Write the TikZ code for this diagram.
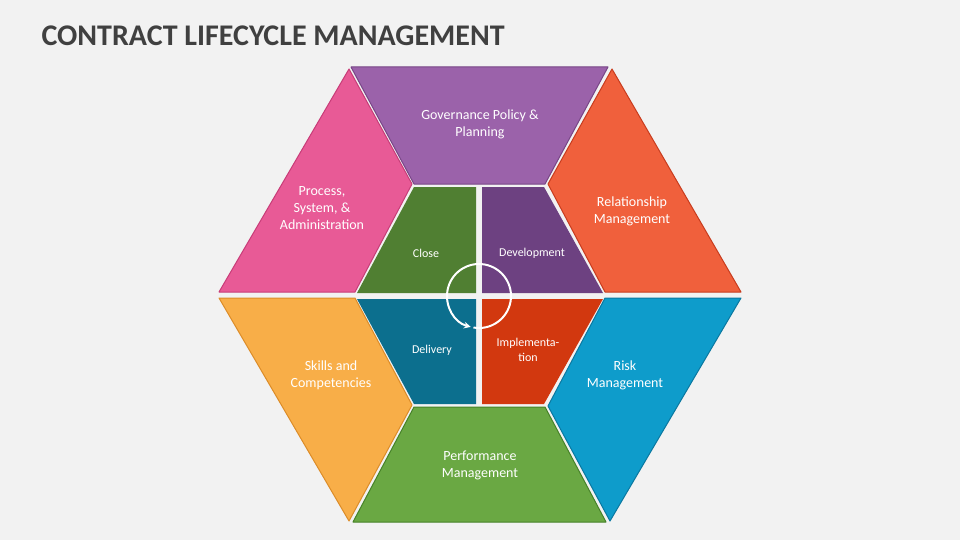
\documentclass[tikz,border=0pt]{standalone}
\usepackage{fontspec}
\setmainfont{Carlito}
\definecolor{bg}{HTML}{F2F2F2}
\definecolor{cPur}{RGB}{155,98,170}\definecolor{dPur}{RGB}{120,70,135}
\definecolor{cOr}{RGB}{240,96,60}\definecolor{dOr}{RGB}{200,60,30}
\definecolor{cBl}{RGB}{14,156,203}\definecolor{dBl}{RGB}{10,120,160}
\definecolor{cGr}{RGB}{106,168,67}\definecolor{dGr}{RGB}{70,130,40}
\definecolor{cYe}{RGB}{248,174,72}\definecolor{dYe}{RGB}{220,140,40}
\definecolor{cPk}{RGB}{232,90,150}\definecolor{dPk}{RGB}{200,60,120}
\definecolor{iGr}{RGB}{80,127,50}\definecolor{iPu}{RGB}{109,65,129}
\definecolor{iBl}{RGB}{12,111,142}\definecolor{iRe}{RGB}{210,56,15}
\begin{document}
\begin{tikzpicture}[x=1pt,y=-1pt,
 piece/.style={line width=1pt, line join=round},
 lbl/.style={text=white, align=center, font=\fontsize{14}{17}\selectfont},
 ilbl/.style={text=white, align=center, font=\fontsize{12}{15}\selectfont}]
\useasboundingbox[fill=bg] (0,0) rectangle (960,540);
\node[anchor=west, text=black!75, font=\fontsize{30}{34}\selectfont\bfseries] (title) at (38,36) {CONTRACT LIFECYCLE MANAGEMENT};
% outer pieces
\filldraw[piece, fill=cPur, draw=dPur] (351,67)--(608,67)--(545,184)--(414,184)--cycle;
\filldraw[piece, fill=cOr, draw=dOr] (612,69)--(741,292)--(605,292)--(548,184)--cycle;
\filldraw[piece, fill=cBl, draw=dBl] (741,298)--(610,521)--(548,406)--(605,298)--cycle;
\filldraw[piece, fill=cGr, draw=dGr] (414,407)--(545,407)--(606,522)--(353,522)--cycle;
\filldraw[piece, fill=cYe, draw=dYe] (219,298)--(355,298)--(412,405)--(349,521)--cycle;
\filldraw[piece, fill=cPk, draw=dPk] (219,292)--(349,69)--(412,184)--(355,292)--cycle;
% inner quadrants
\fill[iGr] (414,187)--(476,187)--(476,293)--(357,293)--cycle;
\fill[iPu] (482,187)--(544,187)--(603,293)--(482,293)--cycle;
\fill[iBl] (357,299)--(476,299)--(476,404)--(414,404)--cycle;
\fill[iRe] (482,299)--(603,299)--(544,404)--(482,404)--cycle;
% cycle arrow
\coordinate (c) at (479,296);
\draw[white, line width=2pt, ->, >={stealth}] (c) ++(100:32) arc[start angle=100, end angle=-255, radius=32];
% labels
\node[lbl] (gov) at (480,124) {Governance Policy \&\\Planning};
\node[lbl] (rel) at (632,211) {Relationship\\Management};
\node[lbl] (risk) at (625,375) {Risk\\Management};
\node[lbl] (perf) at (480,465) {Performance\\Management};
\node[lbl] (skill) at (331,375) {Skills and\\Competencies};
\node[lbl] (proc) at (322,208) {Process,\\System, \&\\Administration};
\node[ilbl] (close) at (426,253) {Close};
\node[ilbl] (dev) at (532,253) {Development};
\node[ilbl] (del) at (432,350) {Delivery};
\node[ilbl] (imp) at (528,350) {Implementa-\\tion};
\end{tikzpicture}
\end{document}
